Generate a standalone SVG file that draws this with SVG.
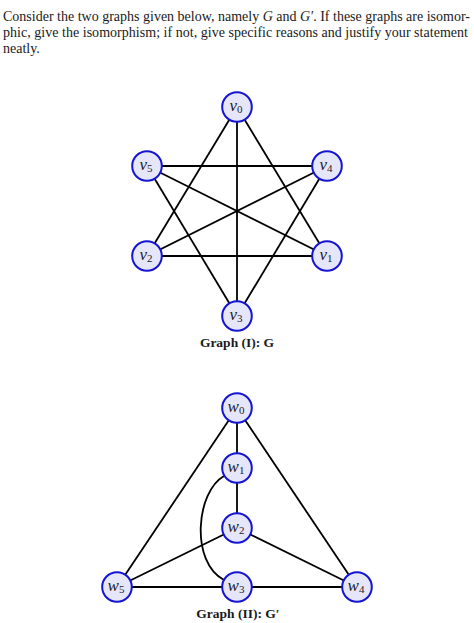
<svg xmlns="http://www.w3.org/2000/svg" width="474" height="623" viewBox="0 0 474 623">
<style>
.para{font-family:"Liberation Serif",serif;font-size:14px;fill:#1a1a1a}
.cap{font-family:"Liberation Serif",serif;font-size:13.5px;font-weight:bold;fill:#1a1a1a;text-anchor:middle}
.node circle{fill:#e6e6fa;stroke:#1414d2;stroke-width:2}
.node text{font-family:"Liberation Serif",serif;font-style:italic;font-size:17px;fill:#222;text-anchor:middle}
.sub{font-style:normal;font-size:11px}
.edges line,.edges path{stroke:#000;stroke-width:1.8;fill:none}
</style>
<rect width="474" height="623" fill="#fff"/>
<text class="para" x="3" y="21" textLength="467" lengthAdjust="spacing">Consider the two graphs given below, namely <tspan font-style="italic">G</tspan> and <tspan font-style="italic">G′</tspan>. If these graphs are isomor-</text>
<text class="para" x="3" y="37" textLength="465" lengthAdjust="spacing">phic, give the isomorphism; if not, give specific reasons and justify your statement</text>
<text class="para" x="3" y="53">neatly.</text>

<g id="edges-G" class="edges">
<line x1="237" y1="107" x2="147" y2="256"/>
<line x1="237" y1="107" x2="237" y2="316"/>
<line x1="237" y1="107" x2="327" y2="256"/>
<line x1="147" y1="166" x2="327" y2="166"/>
<line x1="147" y1="166" x2="327" y2="256"/>
<line x1="147" y1="166" x2="237" y2="316"/>
<line x1="327" y1="166" x2="147" y2="256"/>
<line x1="327" y1="166" x2="237" y2="316"/>
<line x1="147" y1="256" x2="327" y2="256"/>
</g>
<g id="v0" class="node"><circle cx="237" cy="107" r="14.8"/><text x="236" y="111">v<tspan class="sub" dy="2">0</tspan></text></g>
<g id="v5" class="node"><circle cx="147" cy="166" r="14.8"/><text x="146" y="170">v<tspan class="sub" dy="2">5</tspan></text></g>
<g id="v4" class="node"><circle cx="327" cy="166" r="14.8"/><text x="326" y="170">v<tspan class="sub" dy="2">4</tspan></text></g>
<g id="v2" class="node"><circle cx="147" cy="256" r="14.8"/><text x="146" y="260">v<tspan class="sub" dy="2">2</tspan></text></g>
<g id="v1" class="node"><circle cx="327" cy="256" r="14.8"/><text x="326" y="260">v<tspan class="sub" dy="2">1</tspan></text></g>
<g id="v3" class="node"><circle cx="237" cy="316" r="14.8"/><text x="236" y="320">v<tspan class="sub" dy="2">3</tspan></text></g>
<text class="cap" x="237" y="347">Graph (I): G</text>

<g id="edges-Gp" class="edges">
<line x1="237" y1="408" x2="237" y2="468"/>
<line x1="237" y1="468" x2="237" y2="528"/>
<line x1="237" y1="408" x2="117" y2="587"/>
<line x1="237" y1="408" x2="357" y2="587"/>
<line x1="117" y1="587" x2="357" y2="587"/>
<line x1="237" y1="528" x2="117" y2="587"/>
<line x1="237" y1="528" x2="357" y2="587"/>
<path d="M224,476 C196,492 190,562 224,580"/>
</g>
<g id="w0" class="node"><circle cx="237" cy="408" r="14.8"/><text x="236" y="412">w<tspan class="sub" dy="2">0</tspan></text></g>
<g id="w1" class="node"><circle cx="237" cy="468" r="14.8"/><text x="236" y="472">w<tspan class="sub" dy="2">1</tspan></text></g>
<g id="w2" class="node"><circle cx="237" cy="528" r="14.8"/><text x="236" y="532">w<tspan class="sub" dy="2">2</tspan></text></g>
<g id="w3" class="node"><circle cx="237" cy="587" r="14.8"/><text x="236" y="591">w<tspan class="sub" dy="2">3</tspan></text></g>
<g id="w5" class="node"><circle cx="117" cy="587" r="14.8"/><text x="116" y="591">w<tspan class="sub" dy="2">5</tspan></text></g>
<g id="w4" class="node"><circle cx="357" cy="587" r="14.8"/><text x="356" y="591">w<tspan class="sub" dy="2">4</tspan></text></g>
<text class="cap" x="238" y="618">Graph (II): G′</text>
</svg>
